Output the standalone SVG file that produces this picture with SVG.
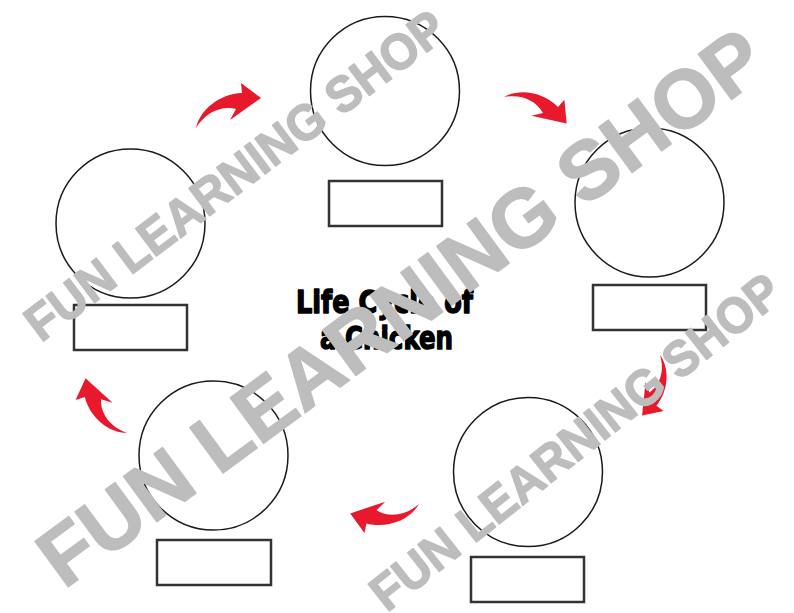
<svg xmlns="http://www.w3.org/2000/svg" xmlns:xlink="http://www.w3.org/1999/xlink" width="794" height="613" viewBox="0 0 794 613">
<style>
.ring{fill:#fff;stroke:#1a1a1a;stroke-width:1.5}
.box{fill:#fff;stroke:#333;stroke-width:2.5}
.arrow{fill:#e8192c}
.title{font-family:"DejaVu Sans","Liberation Sans",sans-serif;font-weight:bold;font-size:32px;fill:#000;stroke:#000;stroke-width:1.4;stroke-linejoin:round;font-stretch:condensed}
.wm{font-family:"Liberation Sans",Arial,sans-serif;font-weight:bold;fill:#bdbdbd;stroke:#bdbdbd;stroke-width:1.5;stroke-linejoin:round}
</style>
<defs>
<path id="arr" d="M196,128 C200,110 219,94 242,93 L241,83 L261,98 L230,120 L236,109 C221,105 205,113 196,128 Z"/>
</defs>
<rect width="794" height="613" fill="#fff"/>
<g id="stage-top"><circle class="ring" cx="385" cy="91" r="74.5"/><rect class="box" x="329" y="181" width="113" height="45"/></g>
<g id="stage-right-top"><circle class="ring" cx="649.5" cy="202.5" r="74.5"/><rect class="box" x="593" y="285" width="113" height="45"/></g>
<g id="stage-right-bottom"><circle class="ring" cx="528" cy="472" r="74.5"/><rect class="box" x="471" y="557" width="113" height="45"/></g>
<g id="stage-bottom-left"><circle class="ring" cx="213.5" cy="455.5" r="74.5"/><rect class="box" x="157" y="540" width="114" height="45"/></g>
<g id="stage-left"><circle class="ring" cx="130.5" cy="223.5" r="74.5"/><rect class="box" x="74" y="305" width="113" height="45"/></g>
<g id="connectors" class="arrow">
<use xlink:href="#arr" href="#arr"/>
<use xlink:href="#arr" href="#arr" transform="translate(504,97) rotate(47.7) scale(0.95) translate(-196,-128)"/>
<use xlink:href="#arr" href="#arr" transform="translate(660,355) rotate(131.3) scale(0.88) translate(-196,-128)"/>
<use xlink:href="#arr" href="#arr" transform="translate(419,504) rotate(197) scale(0.97) translate(-196,-128)"/>
<use xlink:href="#arr" href="#arr" transform="translate(127,433) rotate(-102.3) scale(0.96) translate(-196,-128)"/>
</g>
<g id="title">
<text class="title" x="296" y="313" textLength="177" lengthAdjust="spacingAndGlyphs">Life Cycle of</text>
<text class="title" x="320" y="349" textLength="133" lengthAdjust="spacingAndGlyphs">a Chicken</text>
</g>
<g id="watermark">
<text class="wm" font-size="50" transform="translate(41,343) rotate(-37)" textLength="512" lengthAdjust="spacingAndGlyphs">FUN LEARNING SHOP</text>
<text class="wm" font-size="82" transform="translate(64,590) rotate(-36.3)" textLength="878" lengthAdjust="spacingAndGlyphs">FUN LEARNING SHOP</text>
<text class="wm" font-size="50" transform="translate(387,613) rotate(-38.4)" textLength="508" lengthAdjust="spacingAndGlyphs">FUN LEARNING SHOP</text>
</g>
</svg>
